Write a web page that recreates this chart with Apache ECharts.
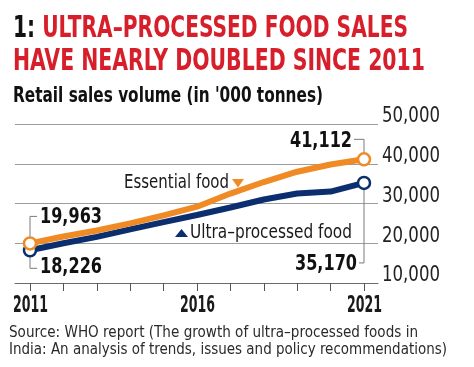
<!DOCTYPE html>
<html>
<head>
<meta charset="utf-8">
<script src="https://cdn.jsdelivr.net/npm/echarts@6/dist/echarts.min.js"></script>
<style>
html,body{margin:0;padding:0;background:#fff;}
#c{width:474px;height:367px;}
</style>
</head>
<body>
<div id="c"></div>
<script>
const years = ['2011','2012','2013','2014','2015','2016','2017','2018','2019','2020','2021'];
const shownYears = ['2011','2016','2021'];
const essentialFood = [19963, 21700, 23200, 25000, 27000, 29200, 32500, 35400, 38000, 39800, 41112];
const ultraProcessed = [18226, 20000, 21600, 23500, 25300, 27100, 29000, 31000, 32500, 33000, 35170];
const yTicks = [10000, 20000, 30000, 40000, 50000];

const FAM = 'DejaVu Sans Condensed, DejaVu Sans, sans-serif';
const ORANGE = '#f08a24';
const BLUE = '#0b2f6e';
const RED = '#d71f2b';
const fmt = v => v.toLocaleString('en-US');

const mctx = document.createElement('canvas').getContext('2d');
function fitScale(text, size, weight, target) {
  mctx.font = (weight || 'normal') + ' ' + size + 'px ' + FAM;
  return target / mctx.measureText(text).width;
}
function txt(text, x, y, size, weight, targetW, extra) {
  const plain = text.replace(/\{[a-z]+\|/g, '').replace(/\}/g, '');
  const e = {
    type: 'text', x: x, y: y, z: 20,
    scaleX: targetW ? fitScale(plain, size, weight, targetW) : 1,
    style: Object.assign({
      text: text, fontFamily: FAM, fontSize: size, fontWeight: weight || 'normal',
      fill: '#1a1a1a', align: 'left', verticalAlign: 'middle'
    }, extra || {})
  };
  return e;
}

const chart = echarts.init(document.getElementById('c'), null, {renderer: 'canvas'});

const option = {
  backgroundColor: '#fff',
  animation: false,
  grid: [
    {left: 30, right: 110, top: 124, bottom: 84},
    {left: 15, right: 96, top: 124, bottom: 84}
  ],
  xAxis: [
    {
      type: 'category', gridIndex: 0, data: years, boundaryGap: false,
      axisLine: {show: false},
      axisTick: {show: true, interval: 0, length: 8, lineStyle: {color: '#555', width: 1}},
      axisLabel: {show: false},
      splitLine: {show: false}
    },
    {
      type: 'value', gridIndex: 1, min: 0, max: 1, interval: 1,
      axisLine: {show: true, lineStyle: {color: '#6a6a6a', width: 1}},
      axisTick: {show: false}, axisLabel: {show: false}, splitLine: {show: false}
    }
  ],
  yAxis: [
    {type: 'value', gridIndex: 0, min: 10000, max: 50000, interval: 10000, show: false},
    {
      type: 'value', gridIndex: 1, position: 'right', min: 10000, max: 50000, interval: 10000,
      axisLine: {show: false}, axisTick: {show: false}, axisLabel: {show: false},
      splitLine: {show: true, lineStyle: {color: '#9d9d9d', width: 1}}
    }
  ],
  series: [
    {
      name: 'Ultra-processed food', type: 'line', xAxisIndex: 0, yAxisIndex: 0,
      data: ultraProcessed,
      lineStyle: {color: BLUE, width: 6},
      itemStyle: {color: '#fff', borderColor: BLUE, borderWidth: 2.5},
      symbol: 'circle', symbolSize: 12,
      z: 3
    },
    {
      name: 'Essential food', type: 'line', xAxisIndex: 0, yAxisIndex: 0,
      data: essentialFood,
      lineStyle: {color: ORANGE, width: 6},
      itemStyle: {color: '#fff', borderColor: ORANGE, borderWidth: 2.5},
      symbol: 'circle', symbolSize: 12,
      z: 4
    }
  ]
};
option.series.forEach(s => {
  s.data = s.data.map((v, i) => (i === 0 || i === s.data.length - 1) ? {value: v} : {value: v, symbol: 'none'});
});
chart.setOption(option);

const last = years.length - 1;
const pE0 = chart.convertToPixel({seriesIndex: 1}, [0, essentialFood[0]]);
const pU0 = chart.convertToPixel({seriesIndex: 0}, [0, ultraProcessed[0]]);
const pE1 = chart.convertToPixel({seriesIndex: 1}, [last, essentialFood[last]]);
const pU1 = chart.convertToPixel({seriesIndex: 0}, [last, ultraProcessed[last]]);

const leader = {stroke: '#7a7a7a', lineWidth: 1, fill: null};
const g = [];

// title
const rich = {
  k: {fontFamily: FAM, fontWeight: 'bold', fontSize: 30, fill: '#111'},
  r: {fontFamily: FAM, fontWeight: 'bold', fontSize: 30, fill: RED}
};
g.push(txt('{k|1: }{r|ULTRA\u2013PROCESSED FOOD SALES}', 13, 29, 30, 'bold', 395, {rich: rich}));
g.push(txt('{r|HAVE NEARLY DOUBLED SINCE 2011}', 13, 62, 30, 'bold', 412, {rich: rich}));
g.push(txt("Retail sales volume (in '000 tonnes)", 13, 97, 20.5, 'bold', 310, {fill: '#111'}));

// y tick labels
const ySc = fitScale('50,000', 20.5, 'normal', 58);
yTicks.forEach(v => {
  const p = chart.convertToPixel({xAxisIndex: 1, yAxisIndex: 1}, [1, v]);
  const e = txt(fmt(v), p[0] + 4, p[1] - 7, 20.5, 'normal', null, {fill: '#222'});
  e.scaleX = ySc;
  g.push(e);
});
// x tick labels
const xSc = fitScale('2016', 23, 'bold', 35);
shownYears.forEach(yr => {
  const p = chart.convertToPixel({xAxisIndex: 0, yAxisIndex: 0}, [years.indexOf(yr), 10000]);
  const e = txt(yr, p[0] + 0.5, p[1] + 23.5, 23, 'bold', null, {fill: '#1a1a1a', align: 'center'});
  e.scaleX = xSc;
  g.push(e);
});

// leader lines
g.push({type: 'polyline', z: 1, shape: {points: [[pE0[0], pE0[1] - 6], [pE0[0], pE0[1] - 27], [pE0[0] + 7, pE0[1] - 27]]}, style: leader});
g.push({type: 'polyline', z: 1, shape: {points: [[pU0[0], pU0[1] + 6], [pU0[0], pU0[1] + 18], [pU0[0] + 7, pU0[1] + 18]]}, style: leader});
g.push({type: 'polyline', z: 1, shape: {points: [[pE1[0] - 10, pE1[1] - 20], [pE1[0], pE1[1] - 20], [pE1[0], pE1[1] - 6]]}, style: leader});
g.push({type: 'polyline', z: 1, shape: {points: [[pU1[0], pU1[1] + 6], [pU1[0], pU1[1] + 80], [pU1[0] - 5, pU1[1] + 80]]}, style: leader});

// value labels
const vSz = 20.5;
const vSc = fitScale('19,963', vSz, 'bold', 62);
[[fmt(essentialFood[0]), pE0[0] + 10, pE0[1] - 25.5, 'left'],
 [fmt(ultraProcessed[0]), pU0[0] + 10, pU0[1] + 17.5, 'left'],
 [fmt(essentialFood[last]), pE1[0] - 12, pE1[1] - 18, 'right'],
 [fmt(ultraProcessed[last]), pU1[0] - 7, pU1[1] + 82, 'right']].forEach(d => {
  const e = txt(d[0], d[1], d[2], vSz, 'bold', null, {fill: '#111', align: d[3]});
  e.scaleX = vSc;
  g.push(e);
});

// series annotations
g.push(txt('Essential food', 124, 183.5, 19, 'normal', 105));
g.push({type: 'polygon', z: 20, shape: {points: [[232, 179], [244, 179], [238, 187.5]]}, style: {fill: ORANGE}});
g.push(txt('Ultra\u2013processed food', 190, 233, 19, 'normal', 162));
g.push({type: 'polygon', z: 20, shape: {points: [[175, 237], [188, 237], [181.5, 229]]}, style: {fill: BLUE}});

// source
g.push(txt('Source: WHO report (The growth of ultra\u2013processed foods in', 9, 332.5, 15.5, 'normal', 409, {fill: '#2a2a2a'}));
g.push(txt('India: An analysis of trends, issues and policy recommendations)', 9, 350, 15.5, 'normal', 438, {fill: '#2a2a2a'}));

chart.setOption({graphic: g});
</script>
</body>
</html>
